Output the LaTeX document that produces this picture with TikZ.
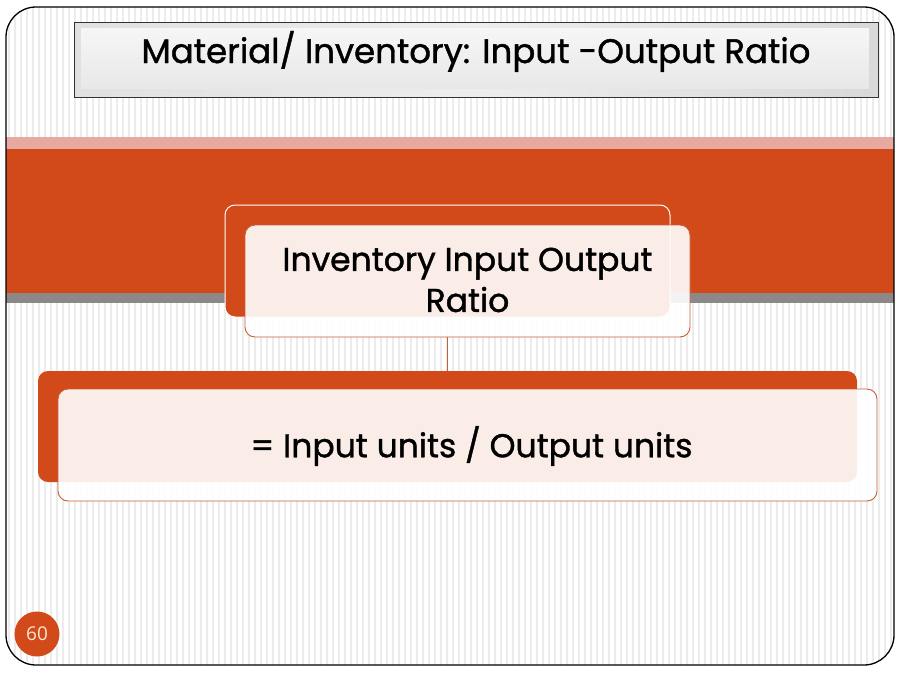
\documentclass[tikz,border=0pt]{standalone}
\usepackage{fontspec}
\setmainfont{Poppins}
\newfontfamily\comic[FakeBold=1.2]{Poppins}
\newfontfamily\numfont{Open Sans}
\definecolor{orng}{RGB}{210,74,26}
\definecolor{pinkstrip}{RGB}{232,170,160}
\definecolor{greystrip}{RGB}{140,136,136}
\definecolor{frontedge}{RGB}{196,96,56}
\definecolor{numtext}{RGB}{252,230,212}
\definecolor{stripecol}{RGB}{236,236,236}
\begin{document}
\begin{tikzpicture}[x=1pt,y=-1pt,
  backbox/.style={draw=white, line width=1pt, fill=orng, rounded corners=10pt, inner sep=0pt},
  frontbox/.style={draw=frontedge, line width=0.9pt, fill=white, fill opacity=0.9, text opacity=1, rounded corners=10pt, inner sep=0pt, align=center},
  boxtext/.style={font=\comic\fontsize{33}{41}\selectfont},
  conn/.style={draw=frontedge, line width=1.2pt},
]
\useasboundingbox (0,0) rectangle (900,675);
\fill[white] (0,0) rectangle (900,675);
% stripes
\begin{scope}
\clip[rounded corners=30pt] (6,7) rectangle (894,665);
\foreach \x in {9,15,...,891} \draw[stripecol, line width=1.6pt] (\x,7) -- (\x,665);
\end{scope}
% band
\fill[pinkstrip] (6,137) rectangle (894,149);
\fill[orng] (6,149) rectangle (894,293);
\fill[greystrip] (6,293) rectangle (894,303);
% page frame
\draw[line width=1.3pt, rounded corners=30pt] (6,7) rectangle (894,665);
% title
\node[draw=black!80, line width=0.9pt, minimum width=804pt, minimum height=75pt, inner sep=0pt,
      left color=gray!24, right color=gray!30, middle color=gray!14] (titlebox) at (476,59.5) {};
\node[minimum width=788pt, minimum height=60pt, inner sep=0pt,
      top color=gray!7, bottom color=gray!18] (titleinner) at (475,58) {};
\node[anchor=base, font=\comic\fontsize{34}{40}\selectfont, inner sep=0pt] (titletext) at (476,63) {Material/ Inventory: Input -Output Ratio};
% diagram
\node[backbox, minimum width=445pt, minimum height=112pt] (topback) at (447.5,261) {};
\node[backbox, draw=none, minimum width=819pt, minimum height=111pt] (botback) at (447.5,426.5) {};
\draw[conn] (topback.south |- 0,337) -- (botback.north);
\node[frontbox, minimum width=445pt, minimum height=112pt] (topfront) at (467.5,281) {};
\node[boxtext, align=center] (toptext) at (467.5,280) {Inventory Input Output\\Ratio};
\node[frontbox, minimum width=819pt, minimum height=112pt] (botfront) at (467.5,445) {};
\node[boxtext] (bottext) at (471.5,446) {= Input units / Output units};
% page number
\node[circle, fill=orng, minimum size=45pt, inner sep=0pt, text=numtext, font=\numfont\fontsize{19}{21}\selectfont] (pagenum) at (37,634) {60};
\end{tikzpicture}
\end{document}
